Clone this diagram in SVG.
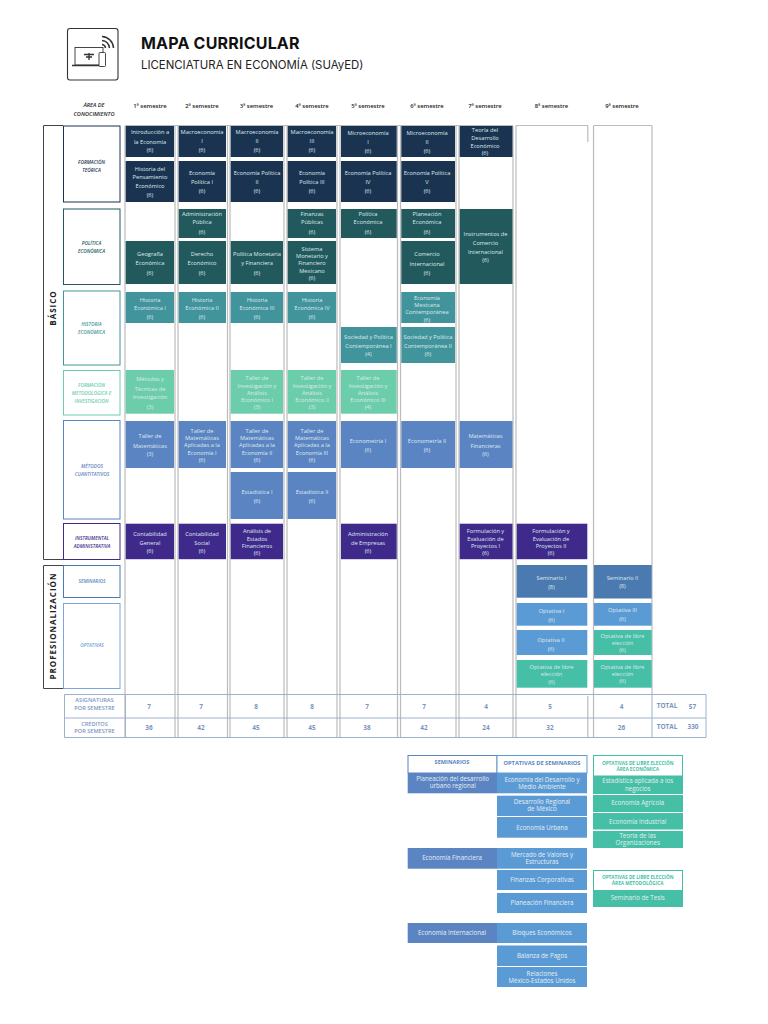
<svg xmlns="http://www.w3.org/2000/svg" width="768" height="1024" viewBox="0 0 768 1024">
<style>
text{font-family:"Open Sans","Liberation Sans",sans-serif;text-anchor:middle}
.c text{fill:#dfe9ee;font-size:5.7px}
.ft{fill:#1a3350}.pe{fill:#22595c}.he{fill:#41949c}.fm{fill:#6ccdab}.mc{fill:#5b84c2}.ia{fill:#3f2a8c}.se{fill:#4a7ab0}.op{fill:#5b9bd5}.li{fill:#45bfa5}
.col{fill:none;stroke:#bbb;stroke-width:1.2}
.lab{fill:#fff;stroke-width:1}
.lt{font-size:4.8px;font-weight:600;font-style:italic}
.sm{font-size:5.9px;font-weight:600;fill:#222}
.tb{font-size:6.4px;font-weight:700;fill:#7a95c0}
.tl{font-size:5.6px;font-weight:600;fill:#7a95c0}
.lg text{fill:#e6eef2;font-size:6.2px}
.vl{font-size:8px;font-weight:700;fill:#222}
</style>
<rect width="768" height="1024" fill="#fff"/>

<g id="icon" fill="none" stroke="#333">
<rect x="67.5" y="28.5" width="50.5" height="51.5" rx="2.5" stroke-width="1.1"/>
<rect x="75" y="47.5" width="28" height="17.5" stroke-width="0.9"/>
<path d="M72 65.5H99" stroke-width="1.5"/>
<rect x="99" y="52.5" width="6.5" height="14" rx="1" fill="#fff" stroke-width="0.9"/>
<path d="M102 44.5a4 4 0 0 1 3.5 3.5M102 40.5a8 8 0 0 1 7.5 7.5M102 36.5a12 12 0 0 1 11.5 11.5" stroke-width="1.5"/>
<path d="M84 54.5h10M86 57h6M89 53v7" stroke-width="1.3"/>
</g>
<g id="title">
<text x="141" y="48.5" style="text-anchor:start;font-family:Inter,'Liberation Sans',sans-serif;font-size:16px;font-weight:700;letter-spacing:.2px;fill:#111">MAPA CURRICULAR</text>
<text x="141" y="69" style="text-anchor:start;font-family:Inter,'Liberation Sans',sans-serif;font-size:11.4px;fill:#222">LICENCIATURA EN ECONOMÍA (SUAyED)</text>
</g>

<g id="headers">
<text x="94" y="107" class="sm" style="font-style:italic;font-size:5.6px">ÁREA DE</text>
<text x="94" y="115.5" class="sm" style="font-style:italic;font-size:5.6px">CONOCIMIENTO</text>
<text x="150" y="108" class="sm">1ª semestre</text>
<text x="202" y="108" class="sm">2ª semestre</text>
<text x="256.5" y="108" class="sm">3ª semestre</text>
<text x="312" y="108" class="sm">4ª semestre</text>
<text x="368" y="108" class="sm">5ª semestre</text>
<text x="427" y="108" class="sm">6ª semestre</text>
<text x="485" y="108" class="sm">7ª semestre</text>
<text x="551.5" y="108" class="sm">8ª semestre</text>
<text x="622" y="108" class="sm">9ª semestre</text>
</g>

<g id="column-frames">
<path class="col" d="M125 126V738M175 126V738M178 126V738M227.500 126V738M230 126V738M284 126V738M287 126V738M337 126V738M340 126V738M397.500 126V738M400.500 126V738M456 126V738M459 126V738M513 126V738M516 125.500V738M587.800 125.500V142M587.800 696V738M516 125.500H587.800M593.500 125.500V738M652 125.500V694M593.500 125.500H652M125 125.500H513"/>
</g>

<g id="area-basico">
<path d="M63 125.500H43.500V559.500H63" fill="none" stroke="#444" stroke-width="1"/>
<text class="vl" transform="translate(56 308) rotate(-90)" letter-spacing="1">BÁSICO</text>
</g>
<g id="area-profesionalizacion">
<path d="M63.500 565.500H43.500V688.500H63.500" fill="none" stroke="#444" stroke-width="1"/>
<text class="vl" transform="translate(56 626) rotate(-90)" letter-spacing="1">PROFESIONALIZACIÓN</text>
</g>

<g id="lab-formacion-teorica"><rect class="lab" x="63.500" y="126" width="56.500" height="76" stroke="#1a3350"/><text class="lt" x="91.500" y="164" fill="#1a3350">FORMACIÓN</text><text class="lt" x="91.500" y="171.500" fill="#1a3350">TEÓRICA</text></g>
<g id="lab-politica-economica"><rect class="lab" x="63.500" y="209" width="56.500" height="75.500" stroke="#22595c"/><text class="lt" x="91.500" y="245" fill="#22595c">POLÍTICA</text><text class="lt" x="91.500" y="252.500" fill="#22595c">ECONÓMICA</text></g>
<g id="lab-historia-economica"><rect class="lab" x="63.500" y="291" width="56.500" height="74" stroke="#41949c"/><text class="lt" x="91.500" y="326" fill="#41949c">HISTORIA</text><text class="lt" x="91.500" y="334" fill="#41949c">ECONÓMICA</text></g>
<g id="lab-formacion-metodologica"><rect class="lab" x="63.500" y="370.500" width="56.500" height="44.500" stroke="#6ccdab"/><text class="lt" x="91.500" y="387" fill="#6ccdab">FORMACIÓN</text><text class="lt" x="91.500" y="394.500" fill="#6ccdab">METODOLÓGICA E</text><text class="lt" x="91.500" y="402.500" fill="#6ccdab">INVESTIGACIÓN</text></g>
<g id="lab-metodos-cuantitativos"><rect class="lab" x="63.500" y="420.500" width="56.500" height="98.500" stroke="#5b84c2"/><text class="lt" x="92" y="467.500" fill="#5b84c2">MÉTODOS</text><text class="lt" x="92" y="475.500" fill="#5b84c2">CUANTITATIVOS</text></g>
<g id="lab-instrumental"><rect class="lab" x="63.500" y="523.500" width="56.500" height="36" stroke="#3f2a8c"/><text class="lt" x="92" y="540" fill="#3f2a8c">INSTRUMENTAL</text><text class="lt" x="92" y="547.500" fill="#3f2a8c">ADMINISTRATIVA</text></g>
<g id="lab-seminarios"><rect class="lab" x="63.500" y="565.500" width="56.500" height="32" stroke="#4a7ab0"/><text class="lt" x="92" y="583" fill="#5b84c2">SEMINARIOS</text></g>
<g id="lab-optativas"><rect class="lab" x="63.500" y="603.500" width="56.500" height="85" stroke="#7ea6d8"/><text class="lt" x="92" y="647" fill="#6f9bd8">OPTATIVAS</text></g>

<g id="ft-1-1" class="c"><rect class="ft" x="125.700" y="126" width="48.300" height="31"/><text x="150" y="134">Introducción a</text><text x="150" y="143.500">la Economía</text><text x="150" y="152">(6)</text></g>
<g id="ft-2-1" class="c"><rect class="ft" x="178.700" y="126" width="47.300" height="31"/><text x="202" y="134">Macroeconomía</text><text x="202" y="143">I</text><text x="202" y="152">(6)</text></g>
<g id="ft-3-1" class="c"><rect class="ft" x="230.700" y="126" width="52.300" height="31"/><text x="257" y="134">Macroeconomía</text><text x="257" y="143">II</text><text x="257" y="152">(6)</text></g>
<g id="ft-4-1" class="c"><rect class="ft" x="287.700" y="126" width="48.300" height="31"/><text x="312" y="134">Macroeconomía</text><text x="312" y="143">III</text><text x="312" y="152">(6)</text></g>
<g id="ft-5-1" class="c"><rect class="ft" x="341" y="126" width="55.700" height="31"/><text x="368" y="134.500">Microeconomía</text><text x="368" y="144">I</text><text x="368" y="152.500">(6)</text></g>
<g id="ft-6-1" class="c"><rect class="ft" x="401.300" y="126" width="53.700" height="31"/><text x="427" y="134.500">Microeconomía</text><text x="427" y="144">II</text><text x="427" y="152.500">(6)</text></g>
<g id="ft-7-1" class="c"><rect class="ft" x="459.700" y="126" width="52.800" height="31"/><text x="485" y="132">Teoría del</text><text x="485" y="140">Desarrollo</text><text x="485" y="147.500">Económico</text><text x="485" y="155">(6)</text></g>

<g id="ft-1-2" class="c"><rect class="ft" x="125.700" y="161" width="48.300" height="41"/><text x="150" y="170.500">Historia del</text><text x="150" y="178.500">Pensamiento</text><text x="150" y="188">Económico</text><text x="150" y="196.500">(6)</text></g>
<g id="ft-2-2" class="c"><rect class="ft" x="178.700" y="161" width="47.300" height="41"/><text x="202" y="175">Economía</text><text x="202" y="184">Política I</text><text x="202" y="192.500">(6)</text></g>
<g id="ft-3-2" class="c"><rect class="ft" x="230.700" y="161" width="52.300" height="41"/><text x="257" y="175">Economía Política</text><text x="257" y="184">II</text><text x="257" y="192.500">(6)</text></g>
<g id="ft-4-2" class="c"><rect class="ft" x="287.700" y="161" width="48.300" height="41"/><text x="312" y="175">Economía</text><text x="312" y="184">Política III</text><text x="312" y="192.500">(6)</text></g>
<g id="ft-5-2" class="c"><rect class="ft" x="341" y="161" width="55.700" height="41"/><text x="368" y="175">Economía Política</text><text x="368" y="184">IV</text><text x="368" y="192.500">(6)</text></g>
<g id="ft-6-2" class="c"><rect class="ft" x="401.300" y="161" width="53.700" height="41"/><text x="427" y="175">Economía Política</text><text x="427" y="184">V</text><text x="427" y="192.500">(6)</text></g>

<g id="pe-2-1" class="c"><rect class="pe" x="178.700" y="209" width="47.300" height="29"/><text x="202" y="216">Administración</text><text x="202" y="224">Pública</text><text x="202" y="233.500">(6)</text></g>
<g id="pe-4-1" class="c"><rect class="pe" x="287.700" y="209" width="48.300" height="29"/><text x="312" y="216">Finanzas</text><text x="312" y="224">Públicas</text><text x="312" y="233.500">(6)</text></g>
<g id="pe-5-1" class="c"><rect class="pe" x="341" y="209" width="55.700" height="29"/><text x="368" y="216">Política</text><text x="368" y="224">Económica</text><text x="368" y="233.500">(6)</text></g>
<g id="pe-6-1" class="c"><rect class="pe" x="401.300" y="209" width="53.700" height="29"/><text x="427" y="216">Planeación</text><text x="427" y="224">Económica</text><text x="427" y="233.500">(6)</text></g>
<g id="pe-7-1" class="c"><rect class="pe" x="459.700" y="209" width="52.800" height="75"/><text x="485.500" y="235.500">Instrumentos de</text><text x="485.500" y="245">Comercio</text><text x="485.500" y="254">Internacional</text><text x="485.500" y="262">(6)</text></g>
<g id="pe-1-2" class="c"><rect class="pe" x="125.700" y="241" width="48.300" height="43"/><text x="150" y="255.500">Geografía</text><text x="150" y="265">Económica</text><text x="150" y="274.500">(6)</text></g>
<g id="pe-2-2" class="c"><rect class="pe" x="178.700" y="241" width="47.300" height="43"/><text x="202" y="255.500">Derecho</text><text x="202" y="265">Económico</text><text x="202" y="274.500">(6)</text></g>
<g id="pe-3-2" class="c"><rect class="pe" x="230.700" y="241" width="52.300" height="43"/><text x="257" y="255.500">Política Monetaria</text><text x="257" y="265">y Financiera</text><text x="257" y="274.500">(6)</text></g>
<g id="pe-4-2" class="c"><rect class="pe" x="287.700" y="241" width="48.300" height="43"/><text x="312" y="250.500">Sistema</text><text x="312" y="258">Monetario y</text><text x="312" y="265">Financiero</text><text x="312" y="272.500">Mexicano</text><text x="312" y="280">(6)</text></g>
<g id="pe-6-2" class="c"><rect class="pe" x="401.300" y="241" width="53.700" height="43"/><text x="427" y="256">Comercio</text><text x="427" y="265.500">Internacional</text><text x="427" y="274.700">(6)</text></g>

<g id="he-1" class="c"><rect class="he" x="125.700" y="292" width="48.300" height="31"/><text x="150" y="301.500">Historia</text><text x="150" y="310">Económica I</text><text x="150" y="319">(6)</text></g>
<g id="he-2" class="c"><rect class="he" x="178.700" y="292" width="47.300" height="31"/><text x="202" y="301.500">Historia</text><text x="202" y="310">Económica II</text><text x="202" y="319">(6)</text></g>
<g id="he-3" class="c"><rect class="he" x="230.700" y="292" width="52.300" height="31"/><text x="257" y="301.500">Historia</text><text x="257" y="310">Económica III</text><text x="257" y="319">(6)</text></g>
<g id="he-4" class="c"><rect class="he" x="287.700" y="292" width="48.300" height="31"/><text x="312" y="301.500">Historia</text><text x="312" y="310">Económica IV</text><text x="312" y="319">(6)</text></g>
<g id="he-6-1" class="c"><rect class="he" x="401.300" y="292" width="53.700" height="31"/><text x="427" y="299.500">Economía</text><text x="427" y="306.700">Mexicana</text><text x="427" y="314">Contemporánea</text><text x="427" y="321.500">(6)</text></g>
<g id="he-5-2" class="c"><rect class="he" x="341" y="327" width="55.700" height="36"/><text x="368.500" y="338.500">Sociedad y Política</text><text x="368.500" y="347.500">Contemporánea I</text><text x="368.500" y="356">(4)</text></g>
<g id="he-6-2" class="c"><rect class="he" x="401.300" y="327" width="53.700" height="36"/><text x="428" y="338.500">Sociedad y Política</text><text x="428" y="347.500">Contemporánea II</text><text x="428" y="356">(6)</text></g>

<g id="fm-1" class="c"><rect class="fm" x="125.700" y="370" width="48.300" height="43.700"/><text x="150" y="381">Métodos y</text><text x="150" y="391">Técnicas de</text><text x="150" y="399">Investigación</text><text x="150" y="408.500">(3)</text></g>
<g id="fm-3" class="c"><rect class="fm" x="230.700" y="370" width="52.300" height="43.700"/><text x="257" y="380">Taller de</text><text x="257" y="387.500">Investigación y</text><text x="257" y="394.500">Análisis</text><text x="257" y="401.700">Económico I</text><text x="257" y="409">(3)</text></g>
<g id="fm-4" class="c"><rect class="fm" x="287.700" y="370" width="48.300" height="43.700"/><text x="312" y="380">Taller de</text><text x="312" y="387.500">Investigación y</text><text x="312" y="394.500">Análisis</text><text x="312" y="401.700">Económico II</text><text x="312" y="409">(3)</text></g>
<g id="fm-5" class="c"><rect class="fm" x="341" y="370" width="55.700" height="43.700"/><text x="368" y="380">Taller de</text><text x="368" y="387.500">Investigación y</text><text x="368" y="394.500">Análisis</text><text x="368" y="401.700">Económico III</text><text x="368" y="409">(4)</text></g>

<g id="mc-1" class="c"><rect class="mc" x="125.700" y="421" width="48.300" height="47"/><text x="150" y="438">Taller de</text><text x="150" y="447.500">Matemáticas</text><text x="150" y="456">(3)</text></g>
<g id="mc-2" class="c"><rect class="mc" x="178.700" y="421" width="47.300" height="47"/><text x="202" y="433">Taller de</text><text x="202" y="440">Matemáticas</text><text x="202" y="447">Aplicadas a la</text><text x="202" y="454.500">Economía I</text><text x="202" y="461.700">(6)</text></g>
<g id="mc-3" class="c"><rect class="mc" x="230.700" y="421" width="52.300" height="47"/><text x="257" y="433">Taller de</text><text x="257" y="440">Matemáticas</text><text x="257" y="447">Aplicadas a la</text><text x="257" y="454.500">Economía II</text><text x="257" y="461.700">(6)</text></g>
<g id="mc-4" class="c"><rect class="mc" x="287.700" y="421" width="48.300" height="47"/><text x="312" y="433">Taller de</text><text x="312" y="440">Matemáticas</text><text x="312" y="447">Aplicadas a la</text><text x="312" y="454.500">Economía III</text><text x="312" y="461.700">(6)</text></g>
<g id="mc-5" class="c"><rect class="mc" x="341" y="421" width="55.700" height="47"/><text x="368" y="443">Econometría I</text><text x="368" y="451.700">(6)</text></g>
<g id="mc-6" class="c"><rect class="mc" x="401.300" y="421" width="53.700" height="47"/><text x="427" y="443">Econometría II</text><text x="427" y="451.700">(6)</text></g>
<g id="mc-7" class="c"><rect class="mc" x="459.700" y="421" width="52.800" height="47"/><text x="485.500" y="438">Matemáticas</text><text x="485.500" y="447.500">Financieras</text><text x="485.500" y="456">(6)</text></g>
<g id="mc-3-2" class="c"><rect class="mc" x="230.700" y="472" width="52.300" height="47"/><text x="257" y="494">Estadística I</text><text x="257" y="502.500">(6)</text></g>
<g id="mc-4-2" class="c"><rect class="mc" x="287.700" y="472" width="48.300" height="47"/><text x="312" y="494">Estadística II</text><text x="312" y="502.500">(6)</text></g>

<g id="ia-1" class="c"><rect class="ia" x="125.700" y="523.700" width="48.300" height="35.500"/><text x="150" y="535.500">Contabilidad</text><text x="150" y="544.500">General</text><text x="150" y="553">(6)</text></g>
<g id="ia-2" class="c"><rect class="ia" x="178.700" y="523.700" width="47.300" height="35.500"/><text x="202" y="535.500">Contabilidad</text><text x="202" y="544.500">Social</text><text x="202" y="553">(6)</text></g>
<g id="ia-3" class="c"><rect class="ia" x="230.700" y="523.700" width="52.300" height="35.500"/><text x="257" y="533">Análisis de</text><text x="257" y="540.500">Estados</text><text x="257" y="548">Financieros</text><text x="257" y="555">(6)</text></g>
<g id="ia-5" class="c"><rect class="ia" x="341" y="523.700" width="55.700" height="35.500"/><text x="368" y="535.500">Administración</text><text x="368" y="544.500">de Empresas</text><text x="368" y="553">(6)</text></g>
<g id="ia-7" class="c"><rect class="ia" x="459.700" y="523.700" width="52.800" height="35.500"/><text x="485.500" y="533">Formulación y</text><text x="485.500" y="540.500">Evaluación de</text><text x="485.500" y="548">Proyectos I</text><text x="485.500" y="555">(6)</text></g>
<g id="ia-8" class="c"><rect class="ia" x="516.700" y="523.700" width="70.600" height="35.500"/><text x="551" y="533">Formulación y</text><text x="551" y="540.500">Evaluación de</text><text x="551" y="548">Proyectos II</text><text x="551" y="555">(6)</text></g>

<g id="se-8" class="c"><rect class="se" x="516.700" y="565" width="70.600" height="32.700"/><text x="551.500" y="579.500">Seminario I</text><text x="551.500" y="589">(8)</text></g>
<g id="se-9" class="c"><rect class="se" x="594" y="565" width="57.700" height="33.500"/><text x="622.500" y="579.500">Seminario II</text><text x="622.500" y="588">(8)</text></g>
<g id="op-8-1" class="c"><rect class="op" x="516.700" y="603" width="70.600" height="22.700"/><text x="551.500" y="612.700">Optativa I</text><text x="551.500" y="621.700">(6)</text></g>
<g id="op-8-2" class="c"><rect class="op" x="516.700" y="630" width="70.600" height="25"/><text x="551" y="641.500">Optativa II</text><text x="551" y="650.700">(6)</text></g>
<g id="li-8" class="c"><rect class="li" x="516.700" y="660" width="70.600" height="27.700"/><text x="551.500" y="668.500">Optativa de libre</text><text x="551.500" y="676">elección</text><text x="551.500" y="683.500">(6)</text></g>
<g id="op-9" class="c"><rect class="op" x="594" y="603" width="57.700" height="22.700"/><text x="622.500" y="612">Optativa III</text><text x="622.500" y="621">(6)</text></g>
<g id="li-9-1" class="c"><rect class="li" x="594" y="630" width="57.700" height="25"/><text x="622.500" y="638">Optativa de libre</text><text x="622.500" y="645">elección</text><text x="622.500" y="652">(6)</text></g>
<g id="li-9-2" class="c"><rect class="li" x="594" y="660" width="57.700" height="27.700"/><text x="622.500" y="668.500">Optativa de libre</text><text x="622.500" y="676">elección</text><text x="622.500" y="683">(6)</text></g>

<g id="totals-table">
<path d="M64.500 694.500H706V737.500H64.500ZM64.500 718H706M125.500 694.500V737.500M652 694.500V737.500" fill="none" stroke="#9db2cf" stroke-width="1"/>
<text class="tl" x="94.500" y="702">ASIGNATURAS</text><text class="tl" x="94.500" y="710.300">POR SEMESTRE</text>
<text class="tl" x="94.500" y="725.700">CRÉDITOS</text><text class="tl" x="94.500" y="733.300">POR SEMESTRE</text>
<text class="tb" x="149" y="709">7</text><text class="tb" x="201" y="709">7</text><text class="tb" x="256" y="709">8</text><text class="tb" x="312" y="709">8</text><text class="tb" x="367" y="709">7</text><text class="tb" x="424" y="709">7</text><text class="tb" x="486" y="709">4</text><text class="tb" x="550" y="709">5</text><text class="tb" x="621.500" y="709">4</text>
<text class="tb" x="149" y="730">36</text><text class="tb" x="201" y="730">42</text><text class="tb" x="256" y="730">45</text><text class="tb" x="312" y="730">45</text><text class="tb" x="367" y="730">38</text><text class="tb" x="424" y="730">42</text><text class="tb" x="486" y="730">24</text><text class="tb" x="550" y="730">32</text><text class="tb" x="621.500" y="730">26</text>
<text class="tb" x="667" y="708">TOTAL</text><text class="tb" x="692.500" y="709">57</text>
<text class="tb" x="667" y="729">TOTAL</text><text class="tb" x="693" y="729">330</text>
</g>

<g id="legend-seminarios" class="lg">
<rect x="408" y="755.500" width="89" height="17.500" fill="#fff" stroke="#5b84c2"/>
<rect x="497" y="755.500" width="90" height="17.500" fill="#fff" stroke="#5b9bd5"/>
<text x="452" y="764" style="fill:#5b84c2;font-weight:700;font-size:5.600px">SEMINARIOS</text>
<text x="542" y="765" style="fill:#5b84c2;font-weight:700;font-size:5.700px">OPTATIVAS DE SEMINARIOS</text>
<rect class="mc" x="407.700" y="773" width="89.300" height="20.300"/><text x="452.700" y="780.500">Planeación del desarrollo</text><text x="452.700" y="788">urbano regional</text>
<rect class="mc" x="407.700" y="848" width="89.300" height="20.700"/><text x="452" y="859.500">Economía Financiera</text>
<rect class="mc" x="407.700" y="923" width="89.300" height="20"/><text x="452" y="935">Economía Internacional</text>
<rect class="op" x="497" y="773" width="90" height="20.300"/><text x="542" y="781.500">Economía del Desarrollo y</text><text x="542" y="789">Medio Ambiente</text>
<rect class="op" x="497" y="795.700" width="90" height="20.300"/><text x="542" y="803.500">Desarrollo Regional</text><text x="542" y="811">de México</text>
<rect class="op" x="497" y="817" width="90" height="20.700"/><text x="542" y="829.500">Economía Urbana</text>
<rect class="op" x="497" y="848" width="90" height="20.700"/><text x="542" y="856.500">Mercado de Valores y</text><text x="542" y="864">Estructuras</text>
<rect class="op" x="497" y="870" width="90" height="20"/><text x="542" y="882">Finanzas Corporativas</text>
<rect class="op" x="497" y="893" width="90" height="20"/><text x="542" y="905">Planeación Financiera</text>
<rect class="op" x="497" y="923" width="90" height="20"/><text x="542" y="935">Bloques Económicos</text>
<rect class="op" x="497" y="945.500" width="90" height="20.500"/><text x="542" y="958">Balanza de Pagos</text>
<rect class="op" x="497" y="967" width="90" height="20"/><text x="542" y="975.500">Relaciones</text><text x="542" y="982.500">México-Estados Unidos</text>
</g>

<g id="legend-libre-economica" class="lg">
<rect x="593.500" y="755.500" width="89" height="20.500" fill="#fff" stroke="#45bfa5"/>
<text x="637.700" y="765" style="fill:#45bfa5;font-weight:700;font-size:4.700px">OPTATIVAS DE LIBRE ELECCIÓN</text><text x="637.700" y="771.300" style="fill:#45bfa5;font-weight:700;font-size:4.700px">ÁREA ECONÓMICA</text>
<rect class="li" x="593" y="776" width="90" height="18"/><text x="637.700" y="783">Estadística aplicada a los</text><text x="637.700" y="790.500">negocios</text>
<rect class="li" x="593" y="795" width="90" height="17"/><text x="637.700" y="804.700">Economía Agrícola</text>
<rect class="li" x="593" y="813" width="90" height="16.500"/><text x="637.700" y="823.500">Economía Industrial</text>
<rect class="li" x="593" y="831" width="90" height="17"/><text x="637.700" y="837.700">Teoría de las</text><text x="637.700" y="845">Organizaciones</text>
</g>
<g id="legend-libre-metodologica" class="lg">
<rect x="593.500" y="870.500" width="89" height="20" fill="#fff" stroke="#45bfa5"/>
<text x="637.700" y="878.700" style="fill:#45bfa5;font-weight:700;font-size:4.700px">OPTATIVAS DE LIBRE ELECCIÓN</text><text x="637.700" y="885" style="fill:#45bfa5;font-weight:700;font-size:4.700px">ÁREA METODOLÓGICA</text>
<rect class="li" x="593" y="890" width="90" height="17"/><text x="637.700" y="899.700">Seminario de Tesis</text>
</g>
</svg>
